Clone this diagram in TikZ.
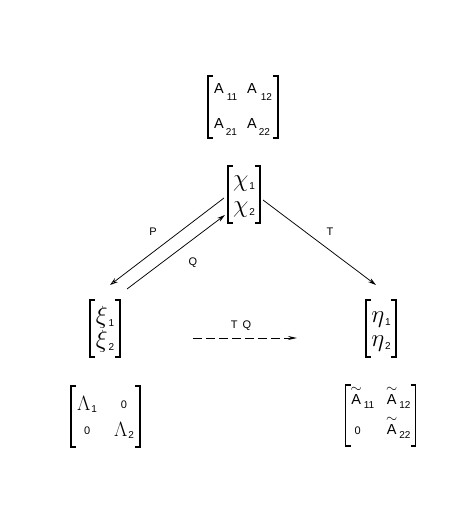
\documentclass[tikz,border=0pt]{standalone}
\usepackage{amsmath}
\usepackage{fontspec}
\setmainfont{Liberation Sans}
\usetikzlibrary{arrows.meta,calc}
\newcommand\sbs[2][-7]{\raisebox{#1pt}{\fontsize{10}{10}\selectfont #2}}
\newcommand\zr[1][0]{\raisebox{#1pt}{\fontsize{11}{11}\selectfont 0}}
\newcommand\At{$\overset{\raisebox{-2pt}{$\textstyle\sim$}}{\text{A}}$}
% name, dx, dy, half width, half height
\newcommand\brk[5]{%
  \draw[brkline] ($(#1.center)+(#2-#4+5,#3-#5)$) -- ++(-5,0) -- ++(0,2*#5) -- ++(5,0);
  \draw[brkline] ($(#1.center)+(#2+#4-5,#3-#5)$) -- ++(5,0) -- ++(0,2*#5) -- ++(-5,0);}
\begin{document}
\begin{tikzpicture}[x=1pt,y=-1pt,
  brkline/.style={line width=1.1pt},
  mat/.style={inner sep=0pt,outer sep=0pt},
  lbl/.style={inner sep=0pt,font=\fontsize{11}{11}\selectfont},
  conn/.style={line width=0.75pt},
  filledtip/.style={-{Stealth[length=8pt,width=4.5pt]}},
  opentip/.style={-{Stealth[open,length=8pt,width=5pt]}}]
\useasboundingbox[fill=white] (0,0) rectangle (474,506);

\node[mat] (Amat) at (243,104) {\fontsize{14.5}{35}\selectfont
  \begin{tabular}{@{}l@{\hspace{10pt}}l@{}}
  A\hspace{3pt}\sbs{11} & A\hspace{4pt}\sbs{12}\\
  A\hspace{2pt}\sbs{21} & A\hspace{2pt}\sbs{22}
  \end{tabular}};
\brk{Amat}{0}{3}{35}{31}

\node[mat] (chi) at (244,194.5) {\fontsize{24}{26}\selectfont
  \begin{tabular}{@{}l@{}}
  $\chi$\hspace{1pt}\sbs[-3]{1}\\
  $\chi$\hspace{1pt}\sbs[-3]{2}
  \end{tabular}};
\brk{chi}{0}{0}{16}{28.5}

\node[mat] (xi) at (105,330.5) {\fontsize{24}{24}\selectfont
  \begin{tabular}{@{}l@{}}
  $\xi$\hspace{1pt}\sbs[-3]{1}\\
  $\xi$\hspace{1pt}\sbs[-3]{2}
  \end{tabular}};
\brk{xi}{0}{-2}{15}{28.5}

\node[mat] (eta) at (381,329.5) {\fontsize{24}{24}\selectfont
  \begin{tabular}{@{}l@{}}
  $\eta$\hspace{1pt}\sbs[-3]{1}\\
  $\eta$\hspace{1pt}\sbs[-3]{2}
  \end{tabular}};
\brk{eta}{0}{-1}{15}{28.5}

\node[mat] (lam) at (105.5,417.8) {\fontsize{22}{26}\selectfont
  \begin{tabular}{@{}c@{\hspace{17pt}}c@{}}
  $\Lambda$\hspace{1pt}\sbs[-2]{1} & \zr[2]\\
  \zr[2] & $\Lambda$\hspace{1pt}\sbs[-2]{2}
  \end{tabular}};
\brk{lam}{0}{-1.3}{34.5}{30.5}

\node[mat] (atil) at (380.5,413) {\fontsize{14.5}{30}\selectfont
  \begin{tabular}{@{}l@{\hspace{12pt}}l@{}}
  \At\hspace{2pt}\sbs[-4]{11} & \At\hspace{2pt}\sbs[-4]{12}\\
  \hspace{4pt}\zr & \At\hspace{2pt}\sbs[-4]{22}
  \end{tabular}};
\brk{atil}{0}{2.5}{35}{30.5}

% connectors
\draw[conn,opentip] ($(chi.center)+(-20,3.5)$) -- ($(xi.center)+(5,-45.5)$);
\draw[conn,filledtip] ($(xi.center)+(22,-41.5)$) -- ($(chi.center)+(-19,20.5)$);
\draw[conn,filledtip] ($(chi.center)+(19,5.5)$) -- ($(eta.center)+(-5,-44.5)$);
\draw[conn,dash pattern=on 8.5pt off 4.5pt,-{Stealth[open,length=9pt,width=4pt]}]
  ($(xi.center)+(88,7.5)$) -- ($(eta.center)+(-84,8.5)$);

\node[lbl] (lP) at (153,232) {P};
\node[lbl] (lQ) at (193,263) {Q};
\node[lbl] (lT) at (330,232) {T};
\node[lbl] (lTQ) at (241,326) {T\hspace{5pt}Q};
\end{tikzpicture}
\end{document}
